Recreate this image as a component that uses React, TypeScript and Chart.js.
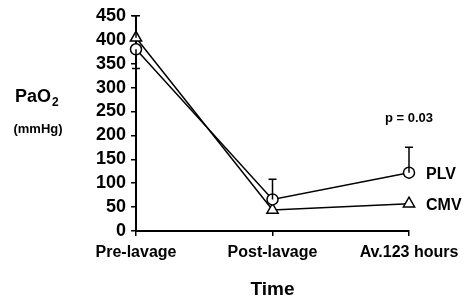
import React, { useEffect, useRef } from "react";
import { Chart, registerables } from "chart.js";

Chart.register(...registerables);

const categories = ["Pre-lavage", "Post-lavage", "Av.123 hours"];
const plvValues = [380, 66, 122];
const cmvValues = [404, 44, 57];
const plvErrHigh: (number | null)[] = [null, 108, 175];
const plvErrLow: (number | null)[] = [340, null, null];
const cmvErrHigh: (number | null)[] = [450, null, null];
const yTicks = [0, 50, 100, 150, 200, 250, 300, 350, 400, 450];
const seriesNames = ["PLV", "CMV"];
const pLabel = "p = 0.03";
const yTitle = "PaO";
const yTitleSub = "2";
const yUnit = "(mmHg)";
const xTitle = "Time";

const FONT = "'Liberation Sans', Arial, sans-serif";

const annotate = {
  id: "annotate",
  afterDatasetsDraw(chart: any) {
    const ctx = chart.ctx;
    const xs = chart.scales.x;
    const ys = chart.scales.y;
    ctx.save();
    ctx.strokeStyle = "#000";
    ctx.lineWidth = 1.5;
    const drawErr = (arr: (number | null)[], base: number[]) => {
      arr.forEach((v, i) => {
        if (v == null) return;
        const x = xs.getPixelForValue(i);
        const y0 = ys.getPixelForValue(base[i]);
        const y1 = ys.getPixelForValue(v);
        ctx.beginPath();
        ctx.moveTo(x, y0);
        ctx.lineTo(x, y1);
        ctx.moveTo(x - 4, y1);
        ctx.lineTo(x + 4, y1);
        ctx.stroke();
      });
    };
    drawErr(plvErrHigh, plvValues);
    drawErr(plvErrLow, plvValues);
    drawErr(cmvErrHigh, cmvValues);
    ctx.restore();
  },
  afterDraw(chart: any) {
    const ctx = chart.ctx;
    const xs = chart.scales.x;
    const ys = chart.scales.y;
    const last = categories.length - 1;
    ctx.save();
    ctx.fillStyle = "#000";
    ctx.textBaseline = "alphabetic";
    ctx.font = `bold 16px ${FONT}`;
    ctx.textAlign = "left";
    const lx = xs.getPixelForValue(last) + 17;
    ctx.fillText(seriesNames[0], lx, ys.getPixelForValue(plvValues[last]) + 6);
    ctx.fillText(seriesNames[1], lx, ys.getPixelForValue(cmvValues[last]) + 6);
    ctx.font = `bold 13px ${FONT}`;
    ctx.textAlign = "center";
    ctx.fillText(pLabel, xs.getPixelForValue(last), ys.getPixelForValue(plvErrHigh[last] as number) - 25);
    ctx.font = `bold 18px ${FONT}`;
    ctx.textAlign = "left";
    const w = ctx.measureText(yTitle).width;
    ctx.fillText(yTitle, 15, 102);
    ctx.font = `bold 12px ${FONT}`;
    ctx.fillText(yTitleSub, 15 + w + 1, 106);
    ctx.font = `bold 13px ${FONT}`;
    ctx.textAlign = "center";
    ctx.fillText(yUnit, 38, 133);
    ctx.font = `bold 19px ${FONT}`;
    ctx.fillText(xTitle, xs.getPixelForValue(1), 295);
    ctx.restore();
  },
};

export default function App() {
  const ref = useRef<HTMLCanvasElement>(null);
  useEffect(() => {
    if (!ref.current) return;
    const chart = new Chart(ref.current, {
      type: "line",
      data: {
        labels: categories,
        datasets: [
          {
            label: seriesNames[0],
            data: plvValues,
            borderColor: "#000",
            borderWidth: 1.5,
            backgroundColor: "#fff",
            pointStyle: "circle",
            pointRadius: 5.5,
            pointBorderWidth: 1.5,
            pointBackgroundColor: "#fff",
            pointBorderColor: "#000",
          },
          {
            label: seriesNames[1],
            data: cmvValues,
            borderColor: "#000",
            borderWidth: 1.5,
            backgroundColor: "#fff",
            pointStyle: "triangle",
            pointRadius: 6.5,
            pointBorderWidth: 1.5,
            pointBackgroundColor: "#fff",
            pointBorderColor: "#000",
          },
        ],
      },
      options: {
        responsive: false,
        animation: false,
        layout: { padding: { left: 0, right: 65, top: 14, bottom: 0 } },
        plugins: { legend: { display: false }, tooltip: { enabled: false } },
        scales: {
          x: {
            type: "category",
            offset: false,
            afterFit: (s: any) => {
              s.height = 76;
            },
            grid: { display: true, drawOnChartArea: false, drawTicks: true, tickLength: 5, color: "#000", lineWidth: 1.5 },
            border: { display: true, color: "#000", width: 2 },
            ticks: { color: "#000", padding: 7, maxRotation: 0, autoSkip: false, font: { family: FONT, size: 16, weight: "bold" } },
          },
          y: {
            min: 0,
            max: 450,
            afterFit: (s: any) => {
              s.width = 136;
            },
            afterBuildTicks: (s: any) => {
              s.ticks = yTicks.map((v) => ({ value: v }));
            },
            grid: { display: true, drawOnChartArea: false, drawTicks: true, tickLength: 5, color: "#000", lineWidth: 1.5 },
            border: { display: true, color: "#000", width: 2 },
            ticks: { color: "#000", padding: 5, autoSkip: false, font: { family: FONT, size: 18, weight: "bold" } },
          },
        },
      },
      plugins: [annotate],
    });
    return () => chart.destroy();
  }, []);
  return (
    <div style={{ position: "absolute", left: 0, top: 0, width: 474, height: 307, background: "#fff" }}>
      <canvas ref={ref} width={474} height={307} />
    </div>
  );
}
